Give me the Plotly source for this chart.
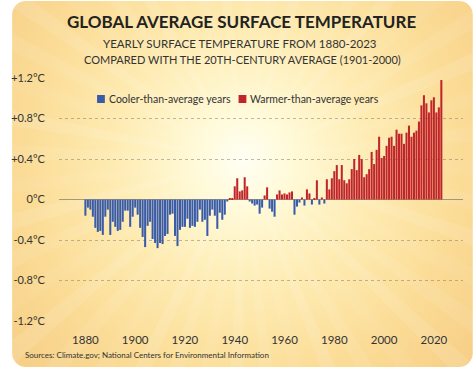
import base64, math
import plotly.graph_objects as go

# ---------------- data ----------------
years = list(range(1880, 2024))
anomalies = [
    -0.16, -0.08, -0.10, -0.17, -0.28, -0.32, -0.31, -0.35, -0.17, -0.10,   # 1880s
    -0.35, -0.22, -0.27, -0.31, -0.30, -0.22, -0.11, -0.11, -0.27, -0.17,   # 1890s
    -0.08, -0.15, -0.28, -0.37, -0.47, -0.26, -0.22, -0.39, -0.43, -0.48,   # 1900s
    -0.43, -0.44, -0.36, -0.34, -0.15, -0.14, -0.36, -0.46, -0.30, -0.27,   # 1910s
    -0.27, -0.19, -0.28, -0.26, -0.27, -0.22, -0.10, -0.22, -0.20, -0.36,   # 1920s
    -0.16, -0.10, -0.16, -0.29, -0.13, -0.20, -0.15, -0.02, 0.01, 0.01,     # 1930s
    0.13, 0.21, 0.08, 0.09, 0.22, 0.13, -0.02, -0.04, -0.06, -0.05,         # 1940s
    -0.14, -0.08, 0.04, 0.12, -0.09, -0.12, -0.17, 0.05, 0.09, 0.05,        # 1950s
    0.06, 0.05, 0.07, 0.08, -0.15, -0.07, -0.03, 0.02, -0.06, 0.10,         # 1960s
    0.06, -0.05, 0.01, 0.19, -0.05, 0.02, -0.04, 0.20, 0.10, 0.21,          # 1970s
    0.28, 0.34, 0.20, 0.34, 0.19, 0.16, 0.20, 0.30, 0.40, 0.29,             # 1980s
    0.44, 0.40, 0.22, 0.25, 0.30, 0.47, 0.35, 0.49, 0.62, 0.41,             # 1990s
    0.43, 0.53, 0.61, 0.62, 0.53, 0.69, 0.65, 0.65, 0.55, 0.66,             # 2000s
    0.73, 0.62, 0.66, 0.68, 0.77, 0.93, 1.03, 0.95, 0.86, 0.98,             # 2010s
    1.01, 0.86, 0.91, 1.18,                                                 # 2020s
]
y_ticks = [-1.2, -0.8, -0.4, 0, 0.4, 0.8, 1.2]
y_tick_labels = ["-1.2°C", "-0.8°C", "-0.4°C", "0°C", "+0.4°C", "+0.8°C", "+1.2°C"]
x_ticks = [1880, 1900, 1920, 1940, 1960, 1980, 2000, 2020]
series_names = ["Cooler-than-average years", "Warmer-than-average years"]

cool_x = [y for y, v in zip(years, anomalies) if v < 0]
cool_y = [v for v in anomalies if v < 0]
warm_x = [y for y, v in zip(years, anomalies) if v >= 0]
warm_y = [v for v in anomalies if v >= 0]

BLUE = "#3a5ba8"
RED = "#c0252c"
FONT = "Lato"

# ---------------- background (sunburst card) ----------------
W, H = 474, 368
cx, cy = 238, 160
rays = []
n = 44
for i in range(n):
    a0 = 2 * math.pi * i / n
    a1 = a0 + 2 * math.pi / n * 0.45
    p1 = (cx + 600 * math.cos(a0), cy + 600 * math.sin(a0))
    p2 = (cx + 600 * math.cos(a1), cy + 600 * math.sin(a1))
    op = 0.05 + 0.06 * ((i * 7) % 3) / 2
    rays.append(f'<polygon points="{cx},{cy} {p1[0]:.1f},{p1[1]:.1f} {p2[0]:.1f},{p2[1]:.1f}" fill="#ffffff" fill-opacity="{op:.2f}"/>')
svg = f'''<svg xmlns="http://www.w3.org/2000/svg" width="{W}" height="{H}" viewBox="0 0 {W} {H}">
<defs>
<radialGradient id="g" cx="{cx}" cy="{cy}" r="320" gradientUnits="userSpaceOnUse">
<stop offset="0" stop-color="#fffff4"/>
<stop offset="0.15" stop-color="#fffad8"/>
<stop offset="0.4" stop-color="#feecb4"/>
<stop offset="0.7" stop-color="#fbdc96"/>
<stop offset="1" stop-color="#f6cd85"/>
</radialGradient>
<clipPath id="c"><rect x="1" y="1" width="{W-2}" height="{H-2}" rx="14" ry="14"/></clipPath>
</defs>
<rect width="{W}" height="{H}" fill="#ffffff"/>
<g clip-path="url(#c)">
<rect width="{W}" height="{H}" fill="url(#g)"/>
{''.join(rays)}
</g>
</svg>'''
bg_src = "data:image/svg+xml;base64," + base64.b64encode(svg.encode()).decode()

# ---------------- figure ----------------
PL, PR, PT, PB = 49, 463, 78, 321


def py(p):
    return (PB - p) / (PB - PT)


def px(p):
    return (p - PL) / (PR - PL)


fig = go.Figure()
fig.add_trace(go.Bar(x=cool_x, y=cool_y, name=series_names[0],
                     marker=dict(color=BLUE, line=dict(width=0))))
fig.add_trace(go.Bar(x=warm_x, y=warm_y, name=series_names[1],
                     marker=dict(color=RED, line=dict(width=0))))

fig.update_layout(
    width=W, height=H,
    margin=dict(l=PL, r=W - PR, t=PT, b=H - PB),
    paper_bgcolor="#ffffff",
    plot_bgcolor="rgba(0,0,0,0)",
    barmode="overlay",
    bargap=0.18,
    font=dict(family=FONT, color="#333333", size=11),
    images=[dict(source=bg_src, xref="paper", yref="paper",
                 x=px(0), y=py(0), sizex=px(W) - px(0), sizey=py(0) - py(H),
                 xanchor="left", yanchor="top", sizing="stretch", layer="below")],
    showlegend=False,
)
fig.update_xaxes(range=[1869.4, 2031.7], tickvals=x_ticks, showgrid=False, zeroline=False,
                 showline=False, ticks="outside", ticklen=8, tickcolor="rgba(0,0,0,0)",
                 tickfont=dict(size=11.5, color="#333333"))
fig.update_yaxes(range=[-1.2001, 1.2001], tickvals=y_ticks, ticktext=y_tick_labels,
                 showgrid=True, gridcolor="rgba(140,130,110,0.55)", griddash="dot", gridwidth=1,
                 zeroline=True, zerolinecolor="rgba(130,120,100,0.7)", zerolinewidth=1,
                 showline=False, ticks="outside", ticklen=11, tickcolor="rgba(0,0,0,0)",
                 tickfont=dict(size=11, color="#333333"))

annotations = [
    dict(text="<b>GLOBAL AVERAGE SURFACE TEMPERATURE</b>", x=px(236), xref="paper", y=py(21),
         yref="paper", xanchor="center", yanchor="middle", showarrow=False,
         font=dict(size=17, color="#222222", family=FONT)),
    dict(text="YEARLY SURFACE TEMPERATURE FROM 1880-2023", x=px(234), xref="paper", y=py(44),
         yref="paper", xanchor="center", yanchor="middle", showarrow=False,
         font=dict(size=11.5, color="#333333", family=FONT)),
    dict(text="COMPARED WITH THE 20TH-CENTURY AVERAGE (1901-2000)", x=px(237), xref="paper", y=py(59),
         yref="paper", xanchor="center", yanchor="middle", showarrow=False,
         font=dict(size=11, color="#333333", family=FONT)),
    dict(text="Sources: Climate.gov; National Centers for Environmental Information", x=px(12),
         xref="paper", y=py(355), yref="paper", xanchor="left", yanchor="middle", showarrow=False,
         font=dict(size=8, color="#333333", family=FONT)),
    # legend labels
    dict(text=series_names[0], x=px(98), xref="paper", y=py(99), yref="paper",
         xanchor="left", yanchor="middle", showarrow=False, font=dict(size=10.5, color="#333333")),
    dict(text=series_names[1], x=px(243), xref="paper", y=py(99), yref="paper",
         xanchor="left", yanchor="middle", showarrow=False, font=dict(size=10.5, color="#333333")),
]
shapes = [
    dict(type="rect", xref="paper", yref="paper", x0=px(88), x1=px(96), y0=py(103), y1=py(95),
         fillcolor=BLUE, line=dict(width=0)),
    dict(type="rect", xref="paper", yref="paper", x0=px(233), x1=px(241), y0=py(103), y1=py(95),
         fillcolor=RED, line=dict(width=0)),
]
fig.update_layout(annotations=annotations, shapes=shapes)

fig.write_html("out.html", config={"displayModeBar": False},
               post_script="document.body.style.margin='0';")
